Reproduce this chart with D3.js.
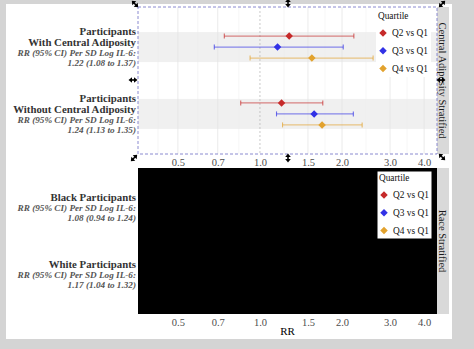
<!DOCTYPE html>
<html><head><meta charset="utf-8">
<script src="https://cdn.jsdelivr.net/npm/d3@7"></script>
<style>
html,body{margin:0;padding:0;background:#d4d4d4;}
svg{display:block;font-family:"Liberation Serif","DejaVu Serif",serif;}
</style></head>
<body>
<svg id="c" width="474" height="349"></svg>
<script>
// ---- data ----
const quartiles = ["Q2 vs Q1", "Q3 vs Q1", "Q4 vs Q1"];
const quartileColors = ["#c62a2a", "#3232e6", "#e2a22e"];
const adiposityGroups = ["With", "Without"];
const adiposityLabels = [
  ["Participants", "With Central Adiposity", "RR (95% CI) Per SD Log IL-6:", "1.22 (1.08 to 1.37)"],
  ["Participants", "Without Central Adiposity", "RR (95% CI) Per SD Log IL-6:", "1.24 (1.13 to 1.35)"]
];
const adiposityRR    = [[1.28, 1.16, 1.55], [1.20, 1.58, 1.69]];
const adiposityLower = [[0.74, 0.68, 0.92], [0.85, 1.15, 1.21]];
const adiposityUpper = [[2.21, 2.02, 2.60], [1.70, 2.20, 2.37]];
const raceGroups = ["Black", "White"];
const raceLabels = [
  ["Black Participants", "RR (95% CI) Per SD Log IL-6:", "1.08 (0.94 to 1.24)"],
  ["White Participants", "RR (95% CI) Per SD Log IL-6:", "1.17 (1.04 to 1.32)"]
];
const xTicks = [0.5, 0.7, 1.0, 1.5, 2.0, 3.0, 4.0];
const xDomain = [0.357, 4.46];

// ---- layout ----
const svg = d3.select("#c");
const L = 138, R = 437, SW = 12;
const top1 = 7, bot1 = 154, top2 = 168, bot2 = 314;

svg.append("rect").attr("x", 6).attr("y", 4).attr("width", 446).attr("height", 335).attr("fill", "#fff");

const x = d3.scaleLog().domain(xDomain).range([L, R]);
const lt = xTicks.map(Math.log);
const ext = [lt[0] - (lt[1] - lt[0])].concat(lt);
const minor = [];
for (let i = 0; i < ext.length - 1; i++) minor.push(Math.exp((ext[i] + ext[i + 1]) / 2));

function panel(y0, y1, groups, dark) {
  const y = d3.scalePoint().domain(groups).range([y0, y1]).padding(0.6);
  const g = svg.append("g");
  g.append("rect").attr("x", L).attr("y", y0).attr("width", R - L).attr("height", y1 - y0)
    .attr("fill", dark ? "#000" : "#fff");
  if (!dark) {
    groups.forEach(k => g.append("rect").attr("x", L).attr("width", R - L)
      .attr("y", y(k) - 15).attr("height", 30).attr("fill", "#f0f0f0"));
    g.selectAll(".mn").data(minor.filter(v => v > xDomain[0] && v < xDomain[1])).enter().append("line")
      .attr("x1", d => x(d)).attr("x2", d => x(d)).attr("y1", y0).attr("y2", y1)
      .attr("stroke", "#ececec").attr("stroke-width", 0.5);
    g.selectAll(".mj").data(xTicks.filter(v => v !== 1)).enter().append("line")
      .attr("x1", d => x(d)).attr("x2", d => x(d)).attr("y1", y0).attr("y2", y1)
      .attr("stroke", "#e4e4e4").attr("stroke-width", 0.8);
    g.append("line").attr("x1", x(1)).attr("x2", x(1)).attr("y1", y0).attr("y2", y1)
      .attr("stroke", "#bbb").attr("stroke-width", 0.8).attr("stroke-dasharray", "2,2");
  }
  const ax = svg.append("g").attr("transform", `translate(0,${y1})`)
    .call(d3.axisBottom(x).tickValues(xTicks).tickFormat(d3.format(".1f")).tickSize(0).tickPadding(5));
  ax.select(".domain").remove();
  ax.selectAll("text").attr("fill", "#4d4d4d").attr("font-size", "10.5px").attr("font-family", "Liberation Serif");
  return y;
}

const y1s = panel(top1, bot1, adiposityGroups, false);
const y2s = panel(top2, bot2, raceGroups, true);

// error bars & points (top panel)
const off = d3.scalePoint().domain(quartiles).range([-11, 11]);
adiposityGroups.forEach((gname, gi) => {
  quartiles.forEach((q, qi) => {
    const cy = y1s(gname) + off(q);
    const col = quartileColors[qi];
    const lo = x(adiposityLower[gi][qi]), hi = x(adiposityUpper[gi][qi]);
    svg.append("line").attr("x1", lo).attr("x2", hi).attr("y1", cy).attr("y2", cy)
      .attr("stroke", col).attr("stroke-opacity", 0.55).attr("stroke-width", 1.1);
    [lo, hi].forEach(xx => svg.append("line").attr("x1", xx).attr("x2", xx).attr("y1", cy - 2.5).attr("y2", cy + 2.5)
      .attr("stroke", col).attr("stroke-opacity", 0.7).attr("stroke-width", 1.1));
    svg.append("path").attr("d", d3.symbol(d3.symbolDiamond2, 36)())
      .attr("transform", `translate(${x(adiposityRR[gi][qi])},${cy})`).attr("fill", col);
  });
});

// group labels
function labels(y, groups, lines) {
  groups.forEach((k, i) => {
    const ls = lines[i];
    const kinds = ls.map(t => (t.startsWith("RR") || /^\d/.test(t)) ? "it" : "bd");
    const pos = [0];
    for (let j = 1; j < ls.length; j++) {
      pos.push(pos[j - 1] + (kinds[j] === "bd" && kinds[j - 1] === "bd" ? 11.2 : kinds[j] !== kinds[j - 1] ? 10.4 : 10));
    }
    const mid = (pos[0] + pos[pos.length - 1]) / 2;
    ls.forEach((t, j) => {
      const italic = kinds[j] === "it";
      svg.append("text").attr("x", 136).attr("y", y(k) + pos[j] - mid).attr("dy", "0.35em")
        .attr("text-anchor", "end").attr("font-weight", "bold")
        .attr("font-style", italic ? "italic" : "normal")
        .attr("font-size", italic ? "9.2px" : "10.8px")
        .attr("fill", italic ? "#555" : "#333").text(t);
    });
  });
}
labels(y1s, adiposityGroups, adiposityLabels);
labels(y2s, raceGroups, raceLabels);

// strips
function strip(y0, y1, t) {
  svg.append("rect").attr("x", R).attr("y", y0).attr("width", SW).attr("height", y1 - y0).attr("fill", "#d9d9d9");
  svg.append("text").attr("transform", `translate(${R + SW / 2},${(y0 + y1) / 2}) rotate(90)`)
    .attr("text-anchor", "middle").attr("dy", "0.35em").attr("font-size", "10.5px").attr("fill", "#1a1a1a").text(t);
}
strip(top1, bot1, "Central Adiposity Stratified");
strip(top2, bot2, "Race Stratified");

// legends
function legend(lx, ly, boxed) {
  const g = svg.append("g");
  g.append("rect").attr("x", lx).attr("y", ly).attr("width", 55).attr("height", 68)
    .attr("fill", "#fff").attr("stroke", boxed ? "#000" : "none").attr("stroke-width", 1);
  g.append("text").attr("x", lx + 2).attr("y", ly + 7).attr("dy", "0.35em").attr("font-size", "9.3px").attr("fill", "#111").text("Quartile");
  quartiles.forEach((q, i) => {
    const cy = ly + 24 + i * 17.8;
    g.append("path").attr("d", d3.symbol(d3.symbolDiamond2, 36)())
      .attr("transform", `translate(${lx + 7},${cy})`).attr("fill", quartileColors[i]);
    g.append("text").attr("x", lx + 16).attr("y", cy).attr("dy", "0.35em").attr("font-size", "9.4px").attr("fill", "#111").text(q);
  });
}
legend(376, 9, false);
legend(377, 171, true);

// axis title
svg.append("text").attr("x", (L + R) / 2).attr("y", 331).attr("dy", "0.35em").attr("text-anchor", "middle")
  .attr("font-size", "11px").attr("fill", "#000").text("RR");

// selection box & handles
svg.append("rect").attr("x", L).attr("y", top1).attr("width", R - L).attr("height", bot1 - top1)
  .attr("fill", "none").attr("stroke", "#8a8ad0").attr("stroke-width", 1).attr("stroke-dasharray", "3,2");
function handle(cx, cy, ang, len) {
  const g = svg.append("g").attr("transform", `translate(${cx},${cy}) rotate(${ang})`);
  g.append("line").attr("x1", -len / 2 + 2).attr("x2", len / 2 - 2).attr("y1", 0).attr("y2", 0).attr("stroke", "#000").attr("stroke-width", 1.6);
  g.append("path").attr("d", `M${-len / 2},0 L${-len / 2 + 3.5},-2.8 L${-len / 2 + 3.5},2.8Z`).attr("fill", "#000");
  g.append("path").attr("d", `M${len / 2},0 L${len / 2 - 3.5},-2.8 L${len / 2 - 3.5},2.8Z`).attr("fill", "#000");
}
handle(135, 4, 45, 9);
handle(288, 3, 90, 9);
handle(442, 4, -45, 9);
handle(133, 80, 0, 9);
handle(441, 80, 0, 9);
handle(134, 158, -45, 9);
handle(288, 158, 90, 9);
handle(442, 157, 45, 9);
</script>
</body></html>
